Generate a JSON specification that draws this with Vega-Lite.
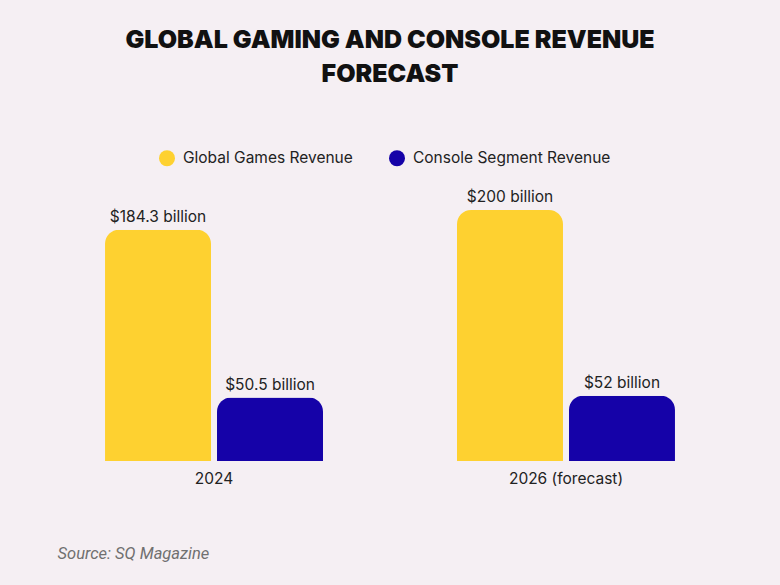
{
  "$schema": "https://vega.github.io/schema/vega-lite/v6.json",
  "width": 700,
  "height": 251,
  "autosize": {"type": "none"},
  "padding": {"left": 40, "right": 40, "top": 210, "bottom": 124},
  "background": "#f5eff3",
  "config": {"view": {"stroke": null}},
  "title": {
    "text": ["GLOBAL GAMING AND CONSOLE REVENUE", "FORECAST"],
    "anchor": "middle",
    "font": "Inter",
    "fontWeight": 900,
    "fontSize": 25,
    "lineHeight": 34,
    "color": "#111111",
    "offset": 63
  },
  "data": {
    "values": [
      {"year": "2024", "series": "Global Games Revenue", "value": 184.3, "label": "$184.3 billion"},
      {"year": "2024", "series": "Console Segment Revenue", "value": 50.5, "label": "$50.5 billion"},
      {"year": "2026 (forecast)", "series": "Global Games Revenue", "value": 200, "label": "$200 billion"},
      {"year": "2026 (forecast)", "series": "Console Segment Revenue", "value": 52, "label": "$52 billion"}
    ]
  },
  "encoding": {
    "x": {
      "field": "year",
      "type": "nominal",
      "sort": null,
      "scale": {"paddingInner": 0.3807, "paddingOuter": 0.1847},
      "axis": {
        "labelAngle": 0,
        "domain": false,
        "ticks": false,
        "labelFont": "Inter",
        "labelFontSize": 15.5,
        "labelColor": "#222222",
        "labelPadding": 10,
        "title": "Source: SQ Magazine",
        "titleFont": "Roboto",
        "titleFontStyle": "italic",
        "titleFontWeight": "normal",
        "titleFontSize": 16.5,
        "titleColor": "#707070",
        "titleAnchor": "start",
        "titleAlign": "left",
        "titleBaseline": "alphabetic",
        "titleX": 17,
        "titleY": 97
      }
    },
    "xOffset": {
      "field": "series",
      "type": "nominal",
      "sort": ["Global Games Revenue", "Console Segment Revenue"],
      "scale": {"paddingInner": 0.0536, "paddingOuter": 0}
    },
    "y": {
      "field": "value",
      "type": "quantitative",
      "scale": {"domain": [0, 200], "nice": false},
      "axis": null
    }
  },
  "layer": [
    {
      "mark": {"type": "bar", "cornerRadiusTopLeft": 14, "cornerRadiusTopRight": 14},
      "encoding": {
        "color": {
          "field": "series",
          "type": "nominal",
          "sort": ["Global Games Revenue", "Console Segment Revenue"],
          "scale": {"domain": ["Global Games Revenue", "Console Segment Revenue"], "range": ["#fed130", "#1502a8"]},
          "legend": {
            "title": null,
            "orient": "none",
            "direction": "horizontal",
            "legendX": 119,
            "legendY": -60,
            "symbolType": "circle",
            "symbolSize": 256,
            "symbolStrokeWidth": 0,
            "labelFont": "Inter",
            "labelFontSize": 15.5,
            "labelLimit": 400,
            "labelColor": "#222222",
            "labelOffset": 8,
            "columnPadding": 36,
            "padding": 0
          }
        }
      }
    },
    {
      "mark": {"type": "text", "baseline": "alphabetic", "dy": -8, "font": "Inter", "fontSize": 15.5, "color": "#222222"},
      "encoding": {"text": {"field": "label"}}
    }
  ]
}
